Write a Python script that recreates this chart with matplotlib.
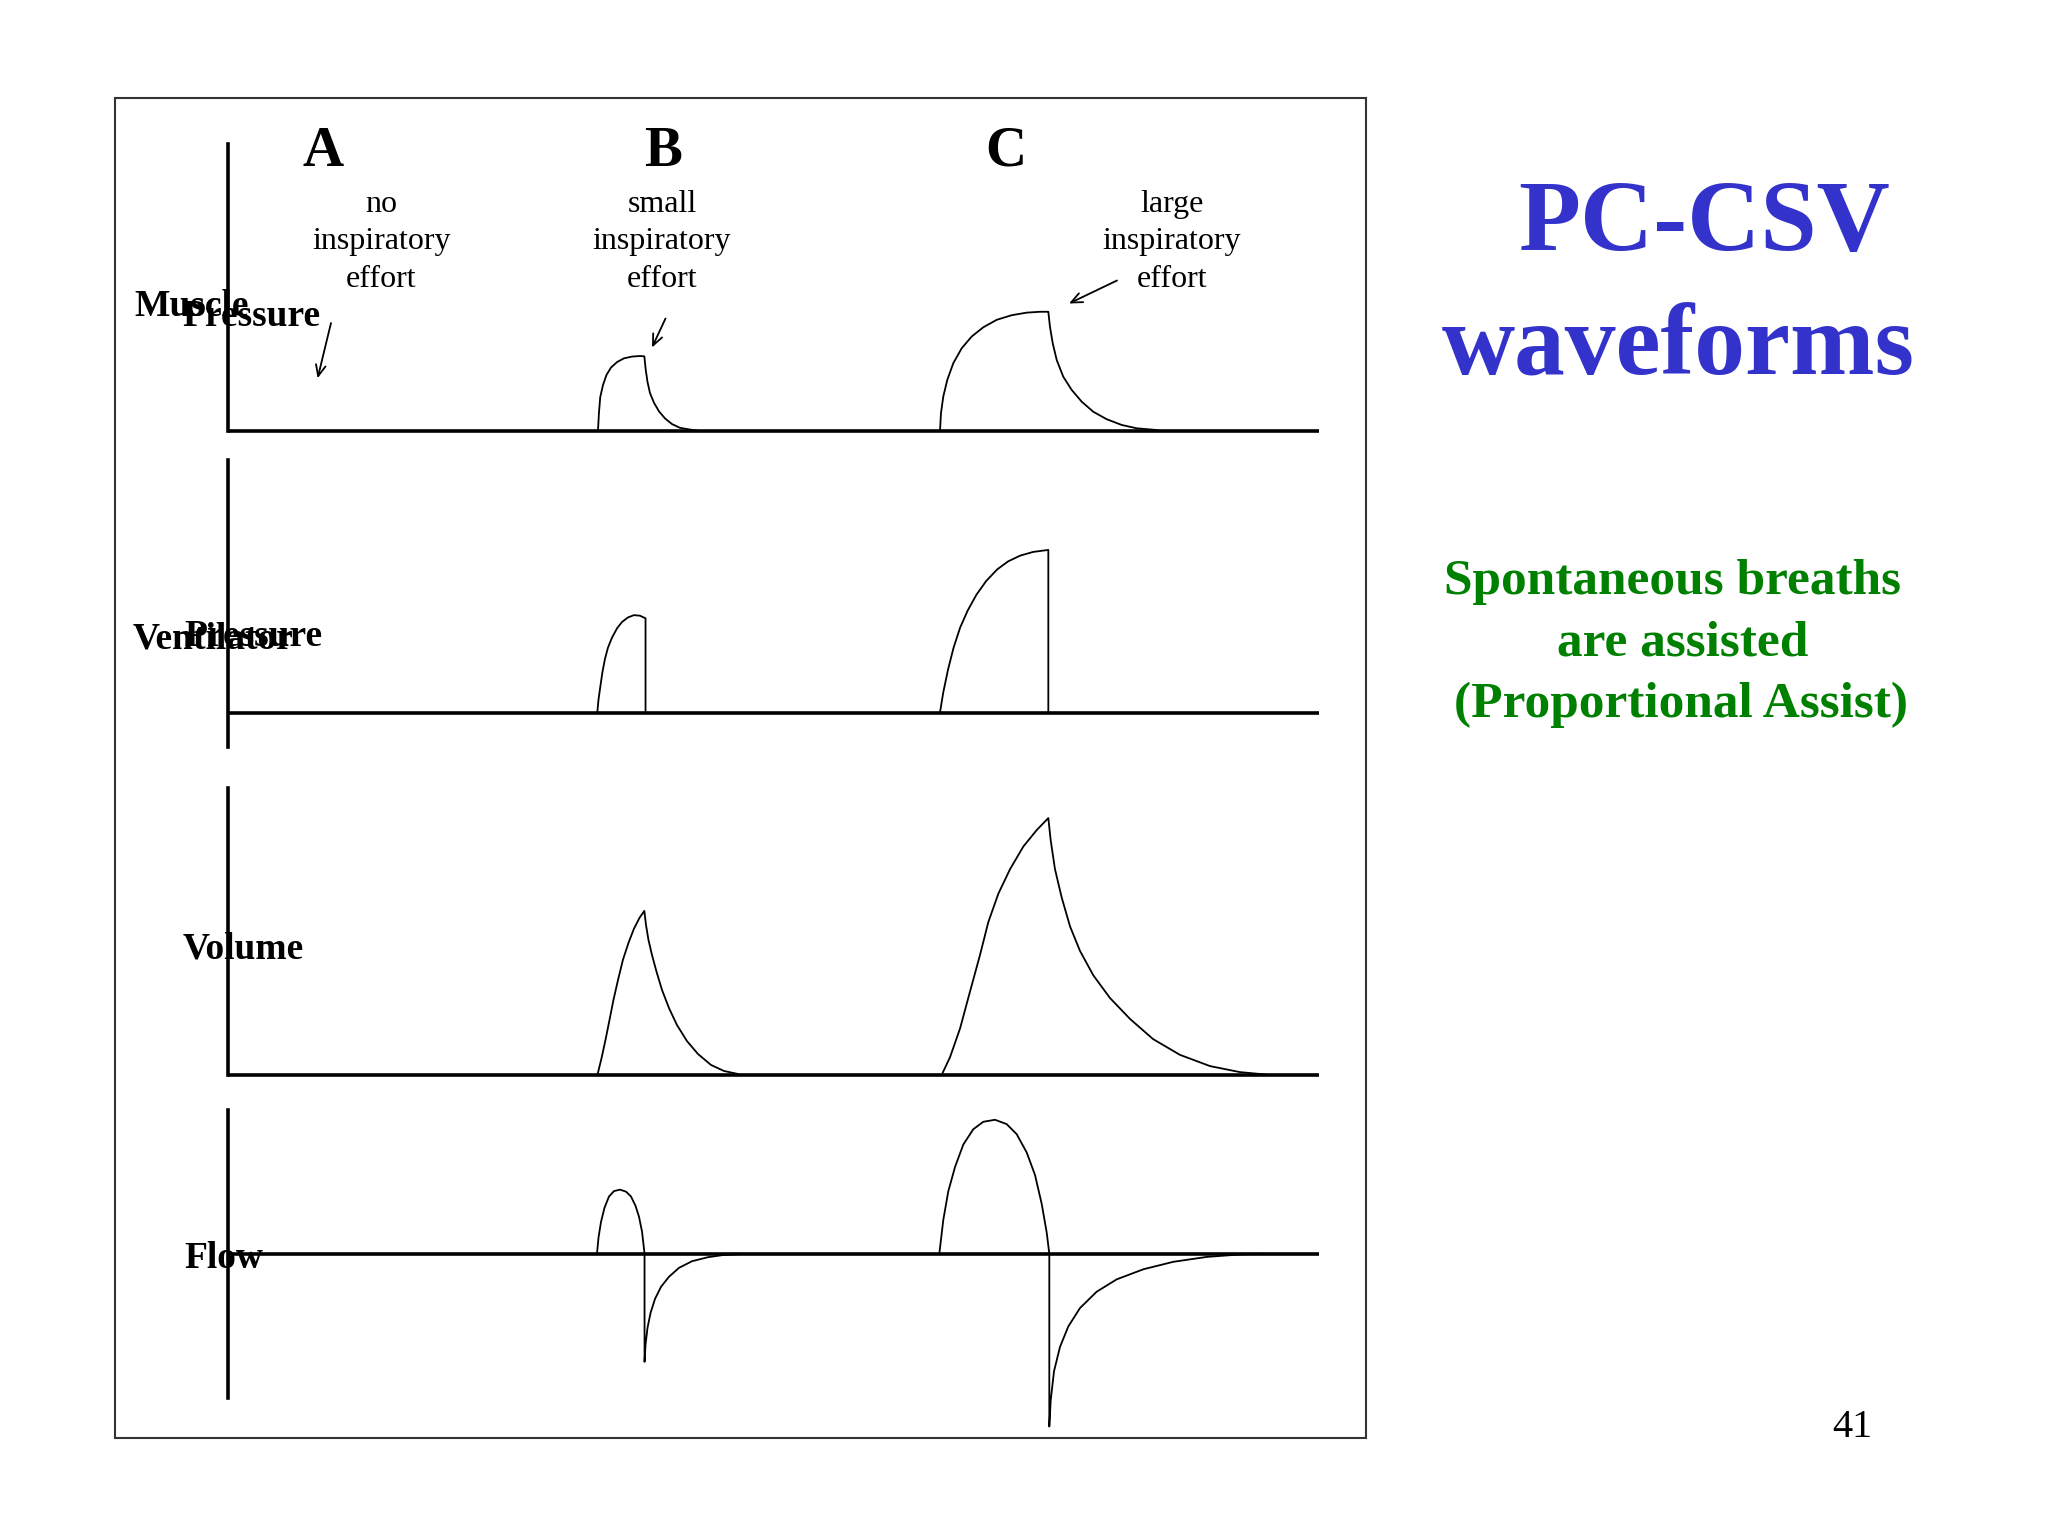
import matplotlib.pyplot as plt

W, H = 2048, 1535

# Waveform data.
# t = percent of the sweep (0 = vertical axis, 100 = end of baseline),
# value = arbitrary units (100 = height of the vertical axis).

# Muscle pressure
muscle_B_t = [33.91, 34.00, 34.12, 34.37, 34.69, 35.11, 35.66, 36.30, 37.03, 37.76, 38.16,
              38.29, 38.45, 38.68, 39.05, 39.51, 40.05, 40.70, 41.43, 42.35, 43.26]
muscle_B_v = [0, 6.3, 11.8, 16.0, 19.5, 22.1, 24.0, 25.3, 25.9, 26.1, 26.0,
              21.3, 17.1, 13.2, 9.8, 6.8, 4.4, 2.4, 1.1, 0.5, 0]
muscle_C_t = [65.26, 65.35, 65.56, 65.93, 66.48, 67.25, 68.17, 69.23, 70.46, 71.83,
              73.21, 74.43, 75.19,
              75.34, 75.59, 75.96, 76.56, 77.33, 78.25, 79.31, 80.54, 81.92, 83.29,
              85.12, 85.40]
muscle_C_v = [0, 6.2, 11.95, 17.8, 23.6, 28.8, 32.9, 36.1, 38.7, 40.3,
              41.2, 41.5, 41.5,
              36.3, 30.6, 24.7, 18.9, 14.3, 10.2, 6.7, 4.1, 2.1, 0.94,
              0.35, 0]

# Ventilator pressure
vent_B_t = [33.85, 33.96, 34.14, 34.33, 34.56, 34.83, 35.20, 35.66, 36.11, 36.66,
            37.21, 37.76, 38.27, 38.27]
vent_B_v = [0, 4.5, 9.4, 14.3, 18.8, 22.6, 26.1, 29.3, 31.5, 33.1,
            33.9, 33.7, 32.8, 0]
vent_C_t = [65.26, 65.56, 66.00, 66.50, 67.10, 67.80, 68.60, 69.50, 70.50, 71.50,
            72.60, 73.80, 75.19, 75.19]
vent_C_v = [0, 7.0, 15.0, 22.5, 29.5, 35.5, 41.0, 45.8, 49.8, 52.6,
            54.6, 55.9, 56.6, 0]

# Volume
vol_B_t = [33.86, 34.24, 34.60, 34.97, 35.33, 35.75, 36.20, 36.71, 37.21, 37.72, 38.16,
           38.31, 38.54, 38.86, 39.28, 39.78, 40.42, 41.15, 42.07, 43.08, 44.27,
           45.46, 46.75]
vol_B_v = [0, 5.9, 12.2, 19.2, 26.1, 33.1, 40.1, 46.0, 50.9, 54.7, 57.1,
           52.3, 47.0, 41.8, 35.9, 29.6, 23.3, 17.4, 11.8, 7.3, 3.5,
           1.4, 0.35]
vol_C_t = [65.41, 66.18, 67.10, 68.01, 68.93, 69.69, 70.61, 71.68, 72.90, 74.12, 75.19,
           75.41, 75.80, 76.42, 77.18, 78.09, 79.31, 80.84, 82.68, 84.79, 87.26,
           90.01, 92.76, 95.05]
vol_C_v = [0, 6.2, 16.2, 29.0, 41.8, 53.2, 63.1, 71.6, 79.5, 85.2, 89.4,
           81.6, 71.6, 61.7, 51.7, 43.2, 34.7, 26.8, 19.5, 12.5, 7.0,
           3.1, 1.0, 0.2]

# Flow
flow_B_t = [33.82, 33.96, 34.19, 34.51, 34.92, 35.38, 35.93, 36.48, 36.94, 37.35,
            37.67, 37.95, 38.18,
            38.18, 38.27, 38.45, 38.73, 39.14, 39.69, 40.42, 41.34, 42.53, 43.99,
            45.28, 46.65]
flow_B_v = [0, 5.6, 11.1, 16.0, 19.9, 21.8, 22.3, 21.6, 19.9, 16.7,
            12.9, 7.7, 0,
            -37.6, -31.7, -25.8, -20.6, -15.7, -11.5, -8.0, -4.9, -2.6, -1.2,
            -0.5, -0.2]
flow_C_t = [65.20, 65.56, 66.02, 66.64, 67.40, 68.31, 69.23, 70.30, 71.37, 72.29,
            73.21, 73.97, 74.58, 75.04, 75.28,
            75.28, 75.41, 75.71, 76.26, 77.02, 78.09, 79.62, 81.46, 83.90, 86.65,
            89.71, 92.76, 94.89]
flow_C_v = [0, 11.7, 21.7, 30.2, 38.0, 43.3, 45.9, 46.6, 45.1, 41.6,
            35.2, 27.4, 17.4, 7.4, 0,
            -60.1, -50.9, -40.9, -32.4, -25.3, -18.9, -13.2, -8.9, -5.4, -2.8,
            -1.1, -0.25, 0]

panel_curves = [
    [(muscle_B_t, muscle_B_v), (muscle_C_t, muscle_C_v)],
    [(vent_B_t, vent_B_v), (vent_C_t, vent_C_v)],
    [(vol_B_t, vol_B_v), (vol_C_t, vol_C_v)],
    [(flow_B_t, flow_B_v), (flow_C_t, flow_C_v)],
]
panel_ylims = [(0, 100), (-12, 88), (0, 100), (-50, 50)]
# vertical extent of each panel on the slide (pixels from top)
panel_px = [(143.7, 431), (459.7, 747), (787.6, 1075), (1110, 1397.5)]

plt.rcParams["font.family"] = "Liberation Serif"

fig = plt.figure(figsize=(W / 100, H / 100), dpi=100)
fig.patch.set_facecolor("white")

x0, xw = 228, 1091
for (top, bot), ylim, curves in zip(panel_px, panel_ylims, panel_curves):
    ax = fig.add_axes([x0 / W, 1 - bot / H, xw / W, (bot - top) / H])
    ax.set_xlim(0, 100)
    ax.set_ylim(*ylim)
    ax.patch.set_visible(False)
    for s in ["top", "right", "bottom"]:
        ax.spines[s].set_visible(False)
    ax.spines["left"].set_linewidth(2.6)
    ax.spines["left"].set_color("black")
    ax.axhline(0, color="black", lw=2.6, solid_capstyle="butt", clip_on=False)
    ax.set_xticks([])
    ax.set_yticks([])
    for t, v in curves:
        ax.plot(t, v, color="black", lw=1.3, clip_on=False, solid_joinstyle="round")

# overlay in slide pixel coordinates for frame, labels and text
ov = fig.add_axes([0, 0, 1, 1])
ov.set_xlim(0, W)
ov.set_ylim(H, 0)
ov.axis("off")
ov.patch.set_visible(False)
ov.set_zorder(5)

ov.add_patch(plt.Rectangle((115, 98), 1251, 1340, fill=False,
                           edgecolor="#333333", lw=1.5))

# column letters
for letter, x in zip(["A", "B", "C"], [322.6, 663.5, 1005.7]):
    ov.text(x, 166, letter, fontsize=41, fontweight="bold",
            ha="center", va="baseline")

# effort notes
notes = ["no\ninspiratory\neffort", "small\ninspiratory\neffort",
         "large\ninspiratory\neffort"]
for note, x in zip(notes, [381.4, 662, 1172]):
    ov.text(x, 241.6, note, fontsize=23, ha="center", va="center",
            multialignment="center", linespacing=1.39)

arrow_kw = dict(arrowstyle="->,head_length=0.5,head_width=0.22",
                color="black", lw=1.3, mutation_scale=16,
                shrinkA=0, shrinkB=0)
ov.annotate("", xy=(317.6, 378.3), xytext=(331, 323), arrowprops=arrow_kw)
ov.annotate("", xy=(652, 347.5), xytext=(665.5, 318.5), arrowprops=arrow_kw)
ov.annotate("", xy=(1069, 303.5), xytext=(1117, 280.5), arrowprops=arrow_kw)

# panel labels (overlapping as on the slide)
lab_kw = dict(fontsize=27, fontweight="bold", ha="left", va="center")
ov.text(134.5, 307, "Muscle", **lab_kw)
ov.text(182.5, 317, "Pressure", **lab_kw)
ov.text(132.5, 639, "Ventilator", **lab_kw)
ov.text(184, 637, "Pressure", **lab_kw)
ov.text(183, 949, "Volume", **lab_kw)
ov.text(184, 1258, "Flow", **lab_kw)

# slide title and note
blue = "#3333CC"
green = "#008000"
ov.text(1704, 251, "PC-CSV", fontsize=73, fontweight="bold", color=blue,
        ha="center", va="baseline")
ov.text(1678, 375, "waveforms", fontsize=73, fontweight="bold", color=blue,
        ha="center", va="baseline")
for line, x, y in zip(["Spontaneous breaths", "are assisted", "(Proportional Assist)"],
                      [1672, 1683, 1681], [594, 656, 717]):
    ov.text(x, y, line, fontsize=37, fontweight="bold", color=green,
            ha="center", va="baseline")

ov.text(1852, 1437, "41", fontsize=29, ha="center", va="baseline")

fig.savefig("out.png", dpi=100, facecolor="white")
